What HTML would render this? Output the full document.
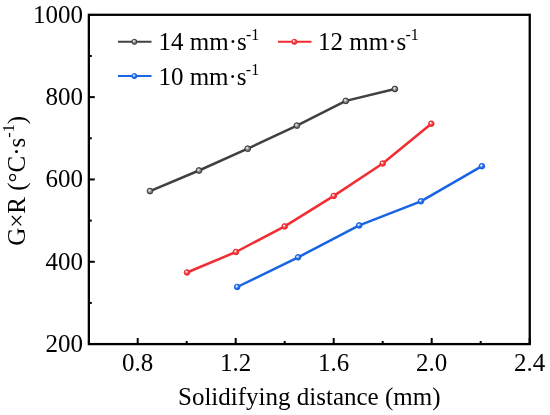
<!DOCTYPE html>
<html><head><meta charset="utf-8"><style>
html,body{margin:0;padding:0;background:#fff;}
svg{display:block;}
text{font-family:"Liberation Serif","Times New Roman",serif;font-size:25px;fill:#000;}
.tk{stroke:#000;stroke-width:2;}
</style></head><body>
<svg width="550" height="415" viewBox="0 0 550 415">
<defs>
<radialGradient id="gk" cx="0.5" cy="0.5" r="0.55" fx="0.35" fy="0.32"><stop offset="0" stop-color="#ffffff"/><stop offset="0.15" stop-color="#e4e4e4"/><stop offset="0.5" stop-color="#8c8c8c"/><stop offset="1" stop-color="#464646"/></radialGradient>
<radialGradient id="gr" cx="0.5" cy="0.5" r="0.55" fx="0.33" fy="0.3"><stop offset="0" stop-color="#ffffff"/><stop offset="0.15" stop-color="#fff0f0"/><stop offset="0.42" stop-color="#f46a6e"/><stop offset="0.68" stop-color="#ef2d33"/><stop offset="1" stop-color="#ef2d33"/></radialGradient>
<radialGradient id="gb" cx="0.5" cy="0.5" r="0.55" fx="0.33" fy="0.3"><stop offset="0" stop-color="#ffffff"/><stop offset="0.15" stop-color="#f0f4ff"/><stop offset="0.42" stop-color="#6a96ee"/><stop offset="0.68" stop-color="#1864e4"/><stop offset="1" stop-color="#1864e4"/></radialGradient>
</defs>
<rect width="550" height="415" fill="#fff"/>
<polyline points="150,191.1 199,170.5 247.7,148.7 296.9,125.6 345.8,100.9 394.9,89" fill="none" stroke="#404040" stroke-width="2.5" stroke-linejoin="round"/>
<circle cx="150" cy="191.1" r="2.9" fill="url(#gk)" stroke="#383838" stroke-width="0.9"/>
<circle cx="199" cy="170.5" r="2.9" fill="url(#gk)" stroke="#383838" stroke-width="0.9"/>
<circle cx="247.7" cy="148.7" r="2.9" fill="url(#gk)" stroke="#383838" stroke-width="0.9"/>
<circle cx="296.9" cy="125.6" r="2.9" fill="url(#gk)" stroke="#383838" stroke-width="0.9"/>
<circle cx="345.8" cy="100.9" r="2.9" fill="url(#gk)" stroke="#383838" stroke-width="0.9"/>
<circle cx="394.9" cy="89" r="2.9" fill="url(#gk)" stroke="#383838" stroke-width="0.9"/>
<polyline points="187,272.5 235.9,252 284.7,226.4 333.8,195.9 382.7,163.5 431.3,123.7" fill="none" stroke="#ef2d33" stroke-width="2.5" stroke-linejoin="round"/>
<circle cx="187" cy="272.5" r="2.8" fill="url(#gr)" stroke="#ef2d33" stroke-width="1.0"/>
<circle cx="235.9" cy="252" r="2.8" fill="url(#gr)" stroke="#ef2d33" stroke-width="1.0"/>
<circle cx="284.7" cy="226.4" r="2.8" fill="url(#gr)" stroke="#ef2d33" stroke-width="1.0"/>
<circle cx="333.8" cy="195.9" r="2.8" fill="url(#gr)" stroke="#ef2d33" stroke-width="1.0"/>
<circle cx="382.7" cy="163.5" r="2.8" fill="url(#gr)" stroke="#ef2d33" stroke-width="1.0"/>
<circle cx="431.3" cy="123.7" r="2.8" fill="url(#gr)" stroke="#ef2d33" stroke-width="1.0"/>
<polyline points="237.2,287 298.1,257.3 359.2,225.4 420.9,201.3 481.9,166.2" fill="none" stroke="#1864e4" stroke-width="2.5" stroke-linejoin="round"/>
<circle cx="237.2" cy="287" r="2.8" fill="url(#gb)" stroke="#1864e4" stroke-width="1.0"/>
<circle cx="298.1" cy="257.3" r="2.8" fill="url(#gb)" stroke="#1864e4" stroke-width="1.0"/>
<circle cx="359.2" cy="225.4" r="2.8" fill="url(#gb)" stroke="#1864e4" stroke-width="1.0"/>
<circle cx="420.9" cy="201.3" r="2.8" fill="url(#gb)" stroke="#1864e4" stroke-width="1.0"/>
<circle cx="481.9" cy="166.2" r="2.8" fill="url(#gb)" stroke="#1864e4" stroke-width="1.0"/>

<rect x="88.85" y="14.8" width="440.9" height="329.3" fill="none" stroke="#000" stroke-width="2.3"/>
<line x1="137.70" y1="344.1" x2="137.70" y2="338" class="tk"/>
<line x1="235.70" y1="344.1" x2="235.70" y2="338" class="tk"/>
<line x1="333.70" y1="344.1" x2="333.70" y2="338" class="tk"/>
<line x1="431.70" y1="344.1" x2="431.70" y2="338" class="tk"/>
<line x1="529.70" y1="344.1" x2="529.70" y2="338" class="tk"/>
<line x1="186.70" y1="344.1" x2="186.70" y2="341" class="tk"/>
<line x1="284.70" y1="344.1" x2="284.70" y2="341" class="tk"/>
<line x1="382.70" y1="344.1" x2="382.70" y2="341" class="tk"/>
<line x1="480.70" y1="344.1" x2="480.70" y2="341" class="tk"/>
<line x1="89" y1="261.78" x2="94.8" y2="261.78" class="tk"/>
<line x1="89" y1="179.45" x2="94.8" y2="179.45" class="tk"/>
<line x1="89" y1="97.12" x2="94.8" y2="97.12" class="tk"/>
<line x1="89" y1="302.94" x2="91.8" y2="302.94" class="tk"/>
<line x1="89" y1="220.61" x2="91.8" y2="220.61" class="tk"/>
<line x1="89" y1="138.29" x2="91.8" y2="138.29" class="tk"/>
<line x1="89" y1="55.96" x2="91.8" y2="55.96" class="tk"/>
<text x="137.70" y="371" text-anchor="middle">0.8</text><text x="235.70" y="371" text-anchor="middle">1.2</text><text x="333.70" y="371" text-anchor="middle">1.6</text><text x="431.70" y="371" text-anchor="middle">2.0</text><text x="529.70" y="371" text-anchor="middle">2.4</text>
<text x="83.1" y="352.00" text-anchor="end">200</text><text x="83.1" y="269.68" text-anchor="end">400</text><text x="83.1" y="187.35" text-anchor="end">600</text><text x="83.1" y="105.03" text-anchor="end">800</text><text x="83.1" y="22.70" text-anchor="end">1000</text>
<text x="178" y="405.3">Solidifying distance (mm)</text>
<text transform="translate(25,245.8) rotate(-90)">G×R (°C·s<tspan font-size="16" dy="-11.5">-1</tspan><tspan dy="11.5">)</tspan></text>
<line x1="118" y1="41.8" x2="151.5" y2="41.8" stroke="#404040" stroke-width="2"/>
<circle cx="134.4" cy="41.8" r="2.6" fill="url(#gk)" stroke="#383838" stroke-width="0.9"/>
<text x="158.6" y="50">14 mm·s<tspan font-size="16" dx="-0.8" dy="-10.5">-1</tspan></text>
<line x1="278" y1="41.8" x2="311.5" y2="41.8" stroke="#ef2d33" stroke-width="2"/>
<circle cx="294.4" cy="41.8" r="2.6" fill="url(#gr)" stroke="#ef2d33" stroke-width="0.9"/>
<text x="318" y="50">12 mm·s<tspan font-size="16" dx="-0.8" dy="-10.5">-1</tspan></text>
<line x1="118" y1="76.1" x2="151.5" y2="76.1" stroke="#1864e4" stroke-width="2"/>
<circle cx="134.4" cy="76.1" r="2.6" fill="url(#gb)" stroke="#1864e4" stroke-width="0.9"/>
<text x="158.4" y="85">10 mm·s<tspan font-size="16" dx="-0.8" dy="-10.5">-1</tspan></text>

</svg>
</body></html>
